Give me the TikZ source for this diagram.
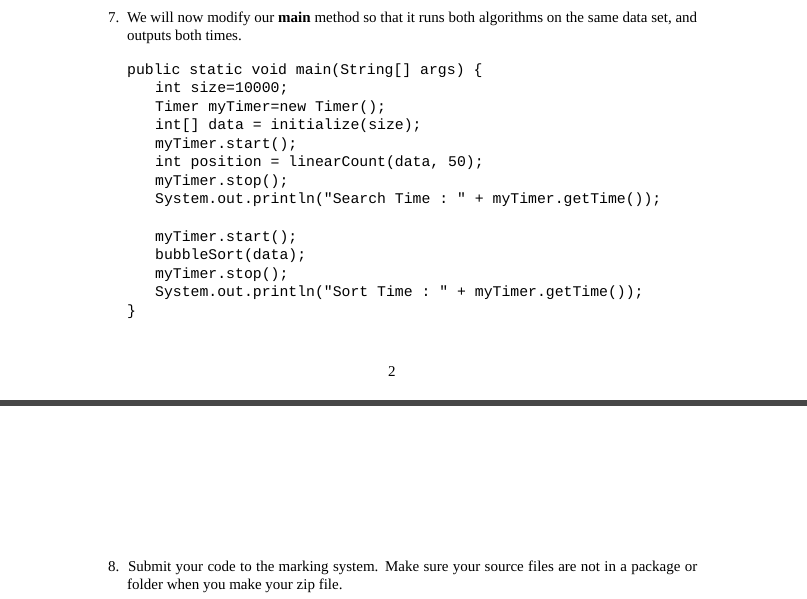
\documentclass[tikz,border=0pt]{standalone}
\usepackage{fontspec}
\setmainfont{Liberation Serif}
\setmonofont{Liberation Mono}
\begin{document}
\begin{tikzpicture}[x=1pt,y=-1pt,
  txt/.style={anchor=base west,inner sep=0pt,font=\fontsize{15}{16}\selectfont},
  code/.style={anchor=base west,inner sep=0pt,font=\ttfamily\fontsize{14.8}{16}\selectfont}]
\useasboundingbox[fill=white] (0,0) rectangle (807,598);
\node[txt] (t1) at (108,22) {\makebox[589pt][s]{7.\ \ We will now modify our \textbf{main} method so that it runs both algorithms on the same data set, and}};
\node[txt] (t2) at (127,40) {outputs both times.};
\node[code] (c1) at (127,74) {public static void main(String[] args) \{};
\node[code] (c2) at (155,92) {int size=10000;};
\node[code] (c3) at (155,111) {Timer myTimer=new Timer();};
\node[code] (c4) at (155,129) {int[] data = initialize(size);};
\node[code] (c5) at (155,148) {myTimer.start();};
\node[code] (c6) at (155,166) {int position = linearCount(data, 50);};
\node[code] (c7) at (155,185) {myTimer.stop();};
\node[code] (c8) at (155,203) {System.out.println("Search Time : " + myTimer.getTime());};
\node[code] (c9) at (155,241) {myTimer.start();};
\node[code] (c10) at (155,259) {bubbleSort(data);};
\node[code] (c11) at (155,278) {myTimer.stop();};
\node[code] (c12) at (155,296) {System.out.println("Sort Time : " + myTimer.getTime());};
\node[code] (c13) at (127,315) {\}};
\node[txt] (pg) at (388,376) {2};
\fill[black!72] (0,400) rectangle (807,406);
\node[txt] (t3) at (108,571) {\makebox[589pt][s]{8.\ \ Submit your code to the marking system. Make sure your source files are not in a package or}};
\node[txt] (t4) at (127,589) {folder when you make your zip file.};
\end{tikzpicture}
\end{document}
